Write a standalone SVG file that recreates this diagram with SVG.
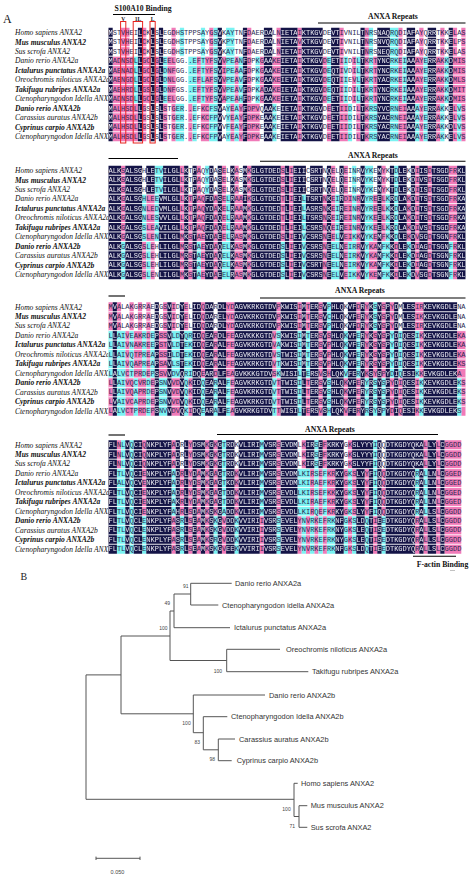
<svg xmlns="http://www.w3.org/2000/svg" width="474" height="876" viewBox="0 0 474 876">
<style>
.p{stroke:#f07ab8;fill:none}
.c{stroke:#7af2f2;fill:none}
.nv{stroke:#141447;fill:none}
.ln{stroke:#000;stroke-width:1.1;fill:none}
.rb{stroke:#e8231f;stroke-width:1;fill:none}
.tr{stroke:#555;stroke-width:1;fill:none}
.hd{font-family:"Liberation Serif","Times New Roman",serif;font-weight:bold;font-size:7.7px;fill:#111}
.tl{font-family:"Liberation Sans",Arial,sans-serif;font-size:7.4px;fill:#333}
.bs{font-family:"Liberation Sans",Arial,sans-serif;font-size:5px;fill:#444;text-anchor:end}
.bg{fill:#fff}
</style>
<defs>
<g id="lab" font-family="Liberation Serif, Times New Roman, serif" font-style="italic" font-size="7.5" fill="#111">
<text x="15" y="7.3">Homo sapiens ANXA2</text>
<text x="15" y="16.75" font-weight="bold">Mus musculus ANXA2</text>
<text x="15" y="26.2">Sus scrofa ANXA2</text>
<text x="15" y="35.65">Danio rerio ANXA2a</text>
<text x="15" y="45.1" font-weight="bold">Ictalurus punctatus ANXA2a</text>
<text x="15" y="54.55">Oreochromis niloticus ANXA2a</text>
<text x="15" y="64" font-weight="bold">Takifugu rubripes ANXA2a</text>
<text x="15" y="73.45">Ctenopharyngodon Idella ANXA2a</text>
<text x="15" y="82.9" font-weight="bold">Danio rerio ANXA2b</text>
<text x="15" y="92.35">Carassius auratus ANXA2b</text>
<text x="15" y="101.8" font-weight="bold">Cyprinus carpio ANXA2b</text>
<text x="15" y="111.25">Ctenopharyngodon Idella ANXA2b</text>
</g>
<path id="sep" d="M108.5 9.45H465.5M108.5 18.9H465.5M108.5 28.35H465.5M108.5 37.8H465.5M108.5 47.25H465.5M108.5 56.7H465.5M108.5 66.15H465.5M108.5 75.6H465.5M108.5 85.05H465.5M108.5 94.5H465.5M108.5 103.95H465.5"/>
<path id="n1M" transform="translate(108.5 41.975) scale(4.2 1)" stroke-width="28.35" d="M0 0h1M7 0h1M10 0h1M12 0h1M26 0h1M32 0h1M37 0h2M41 0h4M46 0h5M53 0h2M60 0h1M64 0h3M71 0h2M76 0h2M81 0h1"/>
<path id="n1A" transform="translate(108.5 79.775) scale(4.2 1)" stroke-width="47.25" d="M0 0h1M7 0h1M10 0h1M12 0h1M26 0h1M32 0h1M37 0h2M41 0h4M46 0h5M53 0h2M60 0h1M64 0h3M71 0h2M76 0h2M81 0h1"/>
<path id="n1B" transform="translate(108.5 122.3) scale(4.2 1)" stroke-width="37.8" d="M0 0h1M7 0h1M10 0h1M12 0h1M26 0h1M32 0h1M37 0h2M41 0h4M46 0h5M53 0h2M60 0h1M64 0h3M71 0h2M76 0h2M81 0h1"/>
<path id="n2M" transform="translate(108.5 179.975) scale(4.2 1)" stroke-width="28.35" d="M0 0h3M4 0h4M9 0h2M13 0h4M18 0h1M20 0h1M24 0h1M26 0h1M29 0h1M32 0h1M34 0h7M42 0h1M44 0h3M48 0h3M52 0h1M55 0h1M60 0h1M64 0h1M67 0h1M69 0h2M72 0h1M74 0h2M77 0h4M83 0h2"/>
<path id="n2A" transform="translate(108.5 217.775) scale(4.2 1)" stroke-width="47.25" d="M0 0h3M4 0h4M12 0h5M18 0h1M20 0h1M23 0h2M26 0h1M29 0h1M32 0h1M34 0h7M42 0h1M44 0h2M47 0h4M52 0h1M55 0h1M60 0h1M64 0h1M67 0h1M69 0h2M72 0h1M74 0h2M77 0h4M83 0h2"/>
<path id="n2B" transform="translate(108.5 260.3) scale(4.2 1)" stroke-width="37.8" d="M0 0h3M4 0h4M12 0h5M18 0h1M20 0h1M23 0h2M26 0h1M29 0h1M32 0h1M34 0h7M42 0h1M44 0h2M47 0h4M52 0h1M55 0h1M60 0h1M64 0h1M67 0h1M69 0h2M72 0h1M74 0h2M77 0h4M83 0h2"/>
<path id="n3M" transform="translate(108.5 316.475) scale(4.2 1)" stroke-width="28.35" d="M1 0h1M11 0h1M14 0h1M17 0h1M20 0h2M23 0h2M26 0h2M30 0h10M41 0h4M46 0h1M48 0h2M51 0h1M53 0h3M57 0h2M60 0h1M62 0h1M64 0h1M66 0h1M68 0h1M70 0h3M75 0h8"/>
<path id="n3A" transform="translate(108.5 354.275) scale(4.2 1)" stroke-width="47.25" d="M1 0h1M11 0h1M14 0h1M17 0h1M20 0h2M23 0h2M26 0h2M30 0h9M41 0h4M46 0h1M48 0h2M51 0h1M53 0h3M57 0h2M60 0h1M62 0h1M64 0h1M66 0h1M68 0h1M70 0h3M75 0h8"/>
<path id="n3B" transform="translate(108.5 396.8) scale(4.2 1)" stroke-width="37.8" d="M1 0h1M11 0h1M14 0h1M17 0h1M20 0h2M23 0h2M26 0h2M30 0h9M41 0h4M46 0h1M48 0h2M51 0h1M53 0h3M57 0h2M60 0h1M62 0h1M64 0h1M66 0h1M68 0h1M70 0h3M75 0h8"/>
<path id="n4M" transform="translate(108.5 454.475) scale(4.2 1)" stroke-width="28.35" d="M0 0h2M4 0h1M6 0h2M9 0h6M16 0h1M18 0h1M20 0h3M24 0h1M26 0h1M28 0h2M31 0h5M37 0h3M41 0h4M47 0h2M50 0h1M52 0h4M58 0h5M64 0h1M66 0h9M76 0h2M79 0h1"/>
<path id="n4A" transform="translate(108.5 492.275) scale(4.2 1)" stroke-width="47.25" d="M0 0h2M4 0h1M6 0h2M9 0h6M16 0h1M18 0h1M20 0h1M22 0h1M24 0h1M26 0h1M28 0h2M31 0h5M37 0h3M41 0h4M54 0h2M59 0h2M62 0h1M64 0h1M66 0h7M74 0h1M76 0h2M79 0h1"/>
<path id="n4B" transform="translate(108.5 534.8) scale(4.2 1)" stroke-width="37.8" d="M0 0h2M4 0h1M6 0h2M9 0h6M16 0h1M18 0h1M20 0h1M22 0h1M24 0h1M26 0h1M28 0h2M31 0h5M37 0h3M41 0h4M54 0h2M59 0h2M62 0h1M64 0h1M66 0h7M74 0h1M76 0h2M79 0h1"/>
<g id="seq" font-family="Liberation Mono, Courier New, monospace" font-size="7">
<text x="108.5" y="34.9">MSTVHEILCKLSLEGDHSTPPSAYGSVKAYTNFDAERDALNIETAIKTKGVDEVTIVNILTNRSNAQRQDIAFAYQRRTKKELAS</text>
<text x="108.5" y="44.35">MSTVHEILCKLSLEGDHSTPPSAYGSVKPYTNFDAERDALNIETAVKTKGVDEVTIVNILTNRSNVQRQDIAFAYQRRTKKELPS</text>
<text x="108.5" y="53.8">MSTVHEILCKLSLEGDHSTPPSAYGSVKAYTNFDAERDALNIETAIKTKGVDEVTIVNILTNRSNEQRQDIAFAYQRRTKKELAS</text>
<text x="108.5" y="63.25">MADNSDLLGCLGLEELGG..EFTYFSVVPEANFDPKGAAKEIETAIKTKGVDEETIIDILTKRTYNCRKEIAAAYERRAKKDMIS</text>
<text x="108.5" y="72.7">MAENADLLGCLGLDNFGG..EFTYFSVIPEAAFDPKGAAKEIETAIKTKGVDEQTIVDILTKRTYNCRKEIAAAYERRAKKDMIS</text>
<text x="108.5" y="82.15">MAENGDLLGCLGLDNLGG..EFLAFSVVPEAVFDPKGAAKEIETAIKTKGVDEQTIIEVLTKRTYACRKEIAAAYERRAKKDMLS</text>
<text x="108.5" y="91.6">MAEHRDLLGSLGLDNFGS..EFTYFSVVPEAVFDPKADAKEIETAIKTKGVDEQTIIDILTKRTYNCRKEIAAAYERRAKKDMIT</text>
<text x="108.5" y="101.05">MADNSDLLGCLGLEELGG..EFTYFSVAPEAHFDPKGAAKEIETAIKTKGVDEETIIDILTKRTYNCRKEIAAAYERRAKKDMIS</text>
<text x="108.5" y="110.5">MALHSDLLGSLSLSTGER..EFKCFSVAYEAYFDPVQAAKEIETAIKTKGVDEETIIDILTKRSYVCRNEIAAAYERRAKKELVS</text>
<text x="108.5" y="119.95">MALHSDLLGSLSLSTGER..EFKCFPVVYEAYFDPKEAAKEIETAIKTKGVDEETIIDILTKRSYACRNEIAAAYERRAKKELVS</text>
<text x="108.5" y="129.4">MALHSDLLGSLSLSTGER..EFKCFPVVFEAYFDPKEAAKEIETAIKTKGVDEETIIDILTKRSYACRNEIAAAYERRAKKDLVS</text>
<text x="108.5" y="138.85">MALHSDLLGSLSLSTGER..EFKCFPVAYEAYFDPKEAAKEIETAIKTKGVDEETIIDILTKRSYACRNEIAAAYERRAKKELVS</text>
<text x="108.5" y="172.9">ALKSALSGHLETVILGLLKTPAQYDASELKASMKGLGTDEDSLIEIICSRTNQELQEINRVYKEMYKTDLEKDIISDTSGDFRKL</text>
<text x="108.5" y="182.35">ALKSALSGHLETVILGLLKTPAQYDASELKASMKGLGTDEDSLIEIICSRTNQELQEINRVYKEMYKTDLEKDIVSDTSGDFRKL</text>
<text x="108.5" y="191.8">ALKSALSGHLETVILGLLKTPAQYDASELKASMKGLGTDEDSLIEIICSRTNQELQEINRVYKEMYKTDLEKDIISDTSGDFRKL</text>
<text x="108.5" y="201.25">ALKGALSGHLEEVMLGLLKTPAQFDASELRAAIKGLGTDEDTLIEILTSRTNKEIRDINRVYREELKRDLAKDITSDTSGDFRKA</text>
<text x="108.5" y="210.7">ALKGALSGNLEDVMLGLLKTPAQYDAKELRAAMKGLGTDEDTLIEILASRSNKEIREINRVYREELKKDLAKDITSDTSGDFRKA</text>
<text x="108.5" y="220.15">ALKGALSGNLESVVLGLLKTPAQFDAQELRAAMKGLGTDEDTLIEILTSRSNREIREINRVYKEELKRDLAKDITSDTSGDFRKA</text>
<text x="108.5" y="229.6">ALKGALSGSLEAVILGLLKTPAQFDAQELRAAMKGLGTDEDTLIEILCSRSNQEIREINRVYKEELKRDLAKDIVSDTSGDFRKA</text>
<text x="108.5" y="239.05">ALKGALSGSLENLILGLMKSTAEYDAEELRASMKGLGTDEDSLIEIVCSRSNEELVEIKKVYKEMFKKDLEKDVSGDTSGNFRKL</text>
<text x="108.5" y="248.5">ALKGALSGSLEHLILGLMRSTAEYDAQELKASMKGLGTDEDSLIEIVCSRSNEELNEIRRVYKAMFKKDLEKDIAGDTSGNFRKL</text>
<text x="108.5" y="257.95">ALKGALSGSLEHLILGLMRSTAEYDAQELKASMKGLGTDEDSLIEIVCSRSNEELNEIRKVYKAMFKKDLEKDIAGDTSGNFRKL</text>
<text x="108.5" y="267.4">ALKGALSGSLEHLILGLMRSTAEYDAQELKASMKGLGTDEDSLIEIVCSRTNEELNEIRKVYKAMFKKDLEKDIAGDTSGNFRKL</text>
<text x="108.5" y="276.85">ALKGALSGSLENLILGLMKSTAEYDAEELRASMKGLGTDEDSLIEIVCSRSNEELVEIKKVYKEMFKKDLEKDVSGDTSGNFRKL</text>
<text x="108.5" y="309.4">MVALAKGRRAEDGSVIDYELIDQDARDLYDAGVKRKGTDVPKWISIMTERSVPHLQKVFDRYKSYSPYDMLESIRKEVKGDLENA</text>
<text x="108.5" y="318.85">MVALAKGRRAEDGSVIDYELIDQDARELYDAGVKRKGTDVPKWISIMTERSVCHLQKVFERYKSYSPYDMLESIKKEVKGDLENA</text>
<text x="108.5" y="328.3">MVALAKGRRAEDGSVIDYELIDQDARDLYDAGVKRKGTDVPKWISIMTERSVPHLQKVFDRYKSYSPYDMLESIRKEVKGDLENA</text>
<text x="108.5" y="337.75">LLAIVEAKRDEPSSVLDYQRIDQEARDLFEAGVKKKGTDVSKWISIMTERSVSHLQKVFERYKSYSPYDIQESIKKEVKGDLEKA</text>
<text x="108.5" y="347.2">LLAIVNAKREEPSTVLDTEKIDQEARALFEAGVKRKGTDVAKWISIMTERSVPHLQKVFERYKSYSPYDIQESIKKEVKGDLEKA</text>
<text x="108.5" y="356.65">LLAIVQTPREAPSSILDTEKIDQEARALFEAGVKRKGTDVSTWISIMTERSVPHLQKVFERYKSYSPYDIQESIKKEVKGDLEKA</text>
<text x="108.5" y="366.1">LLAIVQAPREAPSAVLSTEKIDQEARALFEAGVKRKGTDVTKWISIMTERSVPHLQKVFERYRSYSPYDIQESIKKEVKGDLEKS</text>
<text x="108.5" y="375.55">LALVCTPRDEPSSVVDVQRIDQEARDLFEAGVKKKGTDVSKWISILTERSVSHLQKVFERYKSYSPYDIQESIKKEVKGDLEKA</text>
<text x="108.5" y="385">LLAIVQCVRDEPSNVVDVQKIDQEARALFEAGVKRKGTDVTTWISILTERSVSHLQKVFERYRSYSPYDIQESIKKEVKGDLEKS</text>
<text x="108.5" y="394.45">LLAIVQAPRDEPSNVVDVQKIDQEARALFEAGVKRKGTDVTTWISILTERSVSHLQKVFERYRSYSPYDIQESIKKEVKGDLEKS</text>
<text x="108.5" y="403.9">LVAIVCAPRDEPSNVVDVQKIDQEARALFEAGVKRKGTDVTTWISILTERSVSHLQKVFERYRSYSPYDIQESIKKEVKGDLEKS</text>
<text x="108.5" y="413.35">LALVCTPRDEPSNVVDVQKIDQEARALFEAGVKRKGTDVTTWISILTERSVSHLQKVFERYRSYSPYDIQESIKKEVKGDLEKS</text>
<text x="108.5" y="447.4">FLNLVQCIQNKPLYFADRLYDSMKGKGTRDKVLIRIMVSRSEVDMLKIRSEFKRKYGKSLYYYIQQDTKGDYQKALLYLCGGDD</text>
<text x="108.5" y="456.85">FLNLVQCIQNKPLYFADRLYDSMKGKGTRDKVLIRIMVSRSEVDMLKIRSEFKRKYGKSLYYYIQQDTKGDYQKALLYLCGGDD</text>
<text x="108.5" y="466.3">FLNLVQCIQNKPLYFADRLYDSMKGKGTRDKVLIRIMVSRSEVDMLKIRSEFKRKYGKSLYYFIQQDTKGDYQKALLYLCGGDD</text>
<text x="108.5" y="475.75">FLTLVQCIENKPLYFADRLYDAMKGAGTRDKVLIRIMVSRSEVDMLKIRSEFKRKYGKSLYYFIQQDTKGDYQRALLNLCGGED</text>
<text x="108.5" y="485.2">FLALVQCVENKPLYFADRLYDSMKGAGTKDKVLIRIMVSRSEVDMLKIRAEFKRKYGKSLYYFIQQDTKGDYQRALLNLCGGED</text>
<text x="108.5" y="494.65">FLTLVQCIENKPLYFADRLYDSMKGAGTDDKVLIRIMVSRSEVDLLKIRSEFKKKYGKSLYYFIQQDTKGDYQRALLNLCGGED</text>
<text x="108.5" y="504.1">FLTLVQCIENKPLYFAKRLYDAMKGAGTDDKVLIRIMVSRSEVDLLKIRAEFKRKYGKSLYYFIQQDTKGDYQRALLNLCGGED</text>
<text x="108.5" y="513.55">FLTLVQCIENKPLYFAHRLSDAMKSKGADDKVLIRIMVSRSEVDLLKIRQEFKRKYGKSLYYFIQQDTKGDYQRALLSLCGGDD</text>
<text x="108.5" y="523">FLTLVQCLENKPLYFASRLSEAMKSKGVDDKVVIRIIVSRSEVELYNVRKEFRKNFGKSLDQTIEEDTKGDYQRALLSLCGGDD</text>
<text x="108.5" y="532.45">FLTLVQCLENKPLYFASRLSEAMKSKGVDDKVVIRIIVSRSEVELYNVRKEFRKNYGKSLEQTISEDTKGDYQRALLSLCGGDD</text>
<text x="108.5" y="541.9">FLTLVQCLENKPLYFASRLSEAMKSRGVDDKVVIRIIVSRSEVELYNVRKEFRKNYGKSLEQTISEDTKGDYQRALLSLCGGDD</text>
<text x="108.5" y="551.35">FLTLVQCLENKPLYFASRLSEAMKSKGVEEKVVIRIIVSRSEVELYNVRKEFRKNFGKSLDQTIEEDTKGDYQRALLSLCGGDD</text>
</g>
<mask id="mN" maskUnits="userSpaceOnUse" x="0" y="0" width="474" height="560">
<g stroke="#fff" fill="none">
<use href="#n1M"/><use href="#n1A"/><use href="#n1B"/>
<use href="#n2M"/><use href="#n2A"/><use href="#n2B"/>
<use href="#n3M"/><use href="#n3A"/><use href="#n3B"/>
<use href="#n4M"/><use href="#n4A"/><use href="#n4B"/>
</g>
</mask>
</defs>

<rect width="474" height="876" fill="#fff"/>

<g id="panelA">
<text x="3" y="23" font-family="Liberation Serif, Times New Roman, serif" font-size="12" fill="#111">A</text>

<g id="labels">
<use href="#lab" y="27.8"/>
<use href="#lab" y="165.8"/>
<use href="#lab" y="302.3"/>
<use href="#lab" y="440.3"/>
</g>

<g id="block1">
<rect class="bg" x="108.5" y="27.8" width="357" height="113.4"/>
<g transform="translate(108.5 41.975) scale(4.2 1)" stroke-width="28.35">
<path class="p" d="M3 0h2M8 0h1M15 0h1M24 0h1M33 0h1M40 0h1M45 0h1M55 0h1M61 0h1M69 0h1M74 0h1M79 0h1M82 0h1M84 0h1"/>
<path class="c" d="M17 0h1M22 0h1M25 0h1M28 0h2M62 0h1M67 0h2"/>
</g>
<g transform="translate(108.5 79.775) scale(4.2 1)" stroke-width="47.25">
<path class="p" d="M1 0h5M8 0h2M11 0h1M14 0h2M21 0h1M23 0h2M27 0h1M30 0h1M33 0h1M36 0h1M39 0h2M45 0h1M51 0h1M55 0h1M58 0h1M61 0h1M63 0h1M69 0h1M73 0h2M78 0h2M82 0h3"/>
<path class="c" d="M6 0h1M13 0h1M19 0h2M22 0h1M25 0h1M28 0h2M31 0h1M35 0h1M52 0h1M56 0h1M59 0h1M62 0h1M67 0h2M70 0h1M75 0h1M80 0h1"/>
</g>
<g transform="translate(108.5 122.3) scale(4.2 1)" stroke-width="37.8">
<path class="p" d="M1 0h6M8 0h1M13 0h1M15 0h1M19 0h1M22 0h2M29 0h1M31 0h1M33 0h3M45 0h1M52 0h1M55 0h2M59 0h1M61 0h1M69 0h2M74 0h1M78 0h1M82 0h1M84 0h1"/>
<path class="c" d="M16 0h2M20 0h1M24 0h2M28 0h1M30 0h1M39 0h1M57 0h1M62 0h2M67 0h2M73 0h1M75 0h1M79 0h1M83 0h1"/>
</g>
<g class="nv"><use href="#n1M"/><use href="#n1A"/><use href="#n1B"/></g>
<use href="#sep" y="27.8" stroke="#fff" stroke-width="0.9"/>
</g>

<g id="block2">
<rect class="bg" x="108.5" y="165.8" width="357" height="113.4"/>
<g transform="translate(108.5 179.975) scale(4.2 1)" stroke-width="28.35">
<path class="p" d="M3 0h1M17 0h1M21 0h1M27 0h1M30 0h1M33 0h1M41 0h1M43 0h1M53 0h1M56 0h1M65 0h1M73 0h1M76 0h1M81 0h2"/>
<path class="c" d="M11 0h2M23 0h1M58 0h1M61 0h2M68 0h1"/>
</g>
<g transform="translate(108.5 217.775) scale(4.2 1)" stroke-width="47.25">
<path class="p" d="M3 0h1M9 0h2M17 0h1M19 0h1M21 0h2M25 0h1M27 0h1M30 0h2M33 0h1M41 0h1M43 0h1M51 0h1M53 0h1M56 0h2M59 0h1M63 0h1M65 0h1M71 0h1M73 0h1M76 0h1M81 0h2"/>
<path class="c" d="M8 0h1M11 0h1M28 0h1M46 0h1M54 0h1M58 0h1M61 0h2M66 0h1M68 0h1"/>
</g>
<g transform="translate(108.5 260.3) scale(4.2 1)" stroke-width="37.8">
<path class="p" d="M8 0h1M10 0h1M17 0h1M19 0h1M22 0h1M25 0h1M30 0h2M33 0h1M43 0h1M51 0h1M56 0h1M59 0h1M62 0h2M68 0h1M73 0h1M76 0h1M82 0h1"/>
<path class="c" d="M3 0h1M9 0h1M21 0h1M27 0h2M41 0h1M46 0h1M53 0h2M57 0h2M61 0h1M65 0h2M71 0h1M81 0h1"/>
</g>
<g class="nv"><use href="#n2M"/><use href="#n2A"/><use href="#n2B"/></g>
<use href="#sep" y="165.8" stroke="#fff" stroke-width="0.9"/>
</g>

<g id="block3">
<rect class="bg" x="108.5" y="302.3" width="357" height="113.4"/>
<g transform="translate(108.5 316.475) scale(4.2 1)" stroke-width="28.35">
<path class="p" d="M0 0h1M2 0h1M5 0h1M7 0h1M9 0h1M13 0h1M15 0h1M18 0h1M22 0h1M28 0h2M40 0h1M45 0h1M47 0h1M50 0h1M59 0h1M61 0h1M65 0h1M67 0h1M73 0h2"/>
<path class="c" d="M52 0h1M63 0h1"/>
</g>
<g transform="translate(108.5 354.275) scale(4.2 1)" stroke-width="47.25">
<path class="p" d="M4 0h1M6 0h2M9 0h1M12 0h2M22 0h1M25 0h1M28 0h2M39 0h1M50 0h1M52 0h1M61 0h1M63 0h1M65 0h1M74 0h1M83 0h2"/>
<path class="c" d="M0 0h1M2 0h2M5 0h1M8 0h1M10 0h1M15 0h2M18 0h2M40 0h1M45 0h1M47 0h1M56 0h1M59 0h1M67 0h1M69 0h1M73 0h1"/>
</g>
<g transform="translate(108.5 396.8) scale(4.2 1)" stroke-width="37.8">
<path class="p" d="M0 0h1M4 0h2M7 0h2M10 0h1M15 0h2M19 0h1M29 0h1M40 0h1M47 0h1M50 0h1M56 0h1M59 0h1M67 0h1M69 0h1M73 0h1M84 0h1"/>
<path class="c" d="M2 0h2M6 0h1M9 0h1M12 0h2M18 0h1M22 0h1M25 0h1M28 0h1M39 0h1M45 0h1M52 0h1M61 0h1M63 0h1M65 0h1M74 0h1M83 0h1"/>
</g>
<g class="nv"><use href="#n3M"/><use href="#n3A"/><use href="#n3B"/></g>
<use href="#sep" y="302.3" stroke="#fff" stroke-width="0.9"/>
</g>

<g id="block4">
<rect class="bg" x="108.5" y="440.3" width="357" height="113.4"/>
<g transform="translate(108.5 454.475) scale(4.2 1)" stroke-width="28.35">
<path class="p" d="M2 0h1M8 0h1M15 0h1M19 0h1M23 0h1M25 0h1M40 0h1M46 0h1M51 0h1M57 0h1M75 0h1M78 0h1M80 0h4"/>
<path class="c" d="M3 0h1M5 0h1M27 0h1M36 0h1M49 0h1M63 0h1"/>
</g>
<g transform="translate(108.5 492.275) scale(4.2 1)" stroke-width="47.25">
<path class="p" d="M8 0h1M17 0h1M19 0h1M21 0h1M23 0h1M25 0h1M30 0h1M40 0h1M48 0h1M50 0h1M52 0h2M56 0h1M58 0h1M61 0h1M65 0h1M78 0h1M80 0h4"/>
<path class="c" d="M2 0h2M5 0h1M15 0h1M27 0h1M36 0h1M45 0h3M49 0h1M51 0h1M57 0h1M63 0h1M73 0h1M75 0h1"/>
</g>
<g transform="translate(108.5 534.8) scale(4.2 1)" stroke-width="37.8">
<path class="p" d="M15 0h1M19 0h1M21 0h1M23 0h1M27 0h1M36 0h1M45 0h1M47 0h1M49 0h1M51 0h1M57 0h1M63 0h1M73 0h1M75 0h1M78 0h1M80 0h4"/>
<path class="c" d="M2 0h2M5 0h1M8 0h1M17 0h1M25 0h1M30 0h1M40 0h1M46 0h1M48 0h1M50 0h1M52 0h2M56 0h1M58 0h1M61 0h1M65 0h1"/>
</g>
<g class="nv"><use href="#n4M"/><use href="#n4A"/><use href="#n4B"/></g>
<use href="#sep" y="440.3" stroke="#fff" stroke-width="0.9"/>
</g>

<g id="sequences">
<use href="#seq" fill="#2a2a52"/>
<use href="#seq" fill="#e4e4ee" mask="url(#mN)"/>
</g>

<g id="annotations">
<text class="hd" x="143" y="11" text-anchor="middle" font-size="8.2">S100A10 Binding</text>
<path class="ln" d="M113 14.5H155"/>
<g font-family="Liberation Serif, serif" font-weight="bold" font-size="5.5" fill="#111" text-anchor="middle">
<text x="123.2" y="20.6">V</text>
<text x="137.9" y="20.6">1L</text>
<text x="152.6" y="20.6">L</text>
</g>
<rect class="rb" x="120.6" y="21.5" width="5.2" height="121.5"/>
<rect class="rb" x="133.2" y="21.5" width="9.4" height="121.5"/>
<rect class="rb" x="150" y="21.5" width="5.2" height="121.5"/>

<text class="hd" x="393" y="19" text-anchor="middle">ANXA Repeats</text>
<path class="ln" d="M318 23H465.5"/>

<path class="ln" d="M108.5 158.5H178"/>
<text class="hd" x="373" y="157.5" text-anchor="middle">ANXA Repeats</text>
<path class="ln" d="M260 161.2H465.5"/>

<path class="ln" d="M108.5 296H125"/>
<text class="hd" x="360" y="293" text-anchor="middle">ANXA Repeats</text>
<path class="ln" d="M260 298H465.5"/>

<path class="ln" d="M108.5 435H125"/>
<text class="hd" x="330" y="431.5" text-anchor="middle">ANXA Repeats</text>
<path class="ln" d="M217 434.5H438"/>

<path class="ln" d="M413 556.2H456"/>
<text class="hd" x="442.5" y="567" text-anchor="middle" font-size="8">F-actin Binding</text>
<path d="M450 570.5H455" stroke="#999" stroke-width="0.6"/>
</g>
</g>

<g id="panelB">
<text x="20.5" y="580" font-family="Liberation Serif, Times New Roman, serif" font-size="10" fill="#222">B</text>
<g id="connectors" class="tr">
<path d="M190.7 583.3V605M190.7 583.3H231.7M190.7 605H218.3M174 594V627.7M174 594H190.7M174 627.7H230M170 611V660.5M170 611H174M226.7 649.3V671.7M170 660.5H226.7M226.7 649.3H280M226.7 671.7H308.3M121 636V713.8M121 636H170M193.3 695V732.7M121 713.8H193.3M193.3 695H265M203.3 716.7V749.8M193.3 732.7H203.3M203.3 716.7H227.3M218.3 739V760.7M203.3 749.8H218.3M218.3 739H235M218.3 760.7H231.7M86 674.9V799.3M86 674.9H121M86 799.3H294M294 783.3V816.5M294 783.3H297.7M299 805.7V827.3M294 816.5H299M299 805.7H307.3M299 827.3H307.3"/>
</g>
<g id="bootstrap" class="bs">
<text x="188.5" y="588">91</text>
<text x="170" y="604.5">49</text>
<text x="167.5" y="629.5">100</text>
<text x="222" y="672.5">100</text>
<text x="190.7" y="724.5">100</text>
<text x="200" y="744">83</text>
<text x="215" y="760.5">98</text>
<text x="290.7" y="810.5">100</text>
<text x="295" y="828">71</text>
</g>
<g id="leaf-danio-a"><text class="tl" x="235" y="585.8">Danio rerio ANXA2a</text></g>
<g id="leaf-cteno-a"><text class="tl" x="222" y="607.5">Ctenopharyngodon idella ANXA2a</text></g>
<g id="leaf-ictalurus-a"><text class="tl" x="234" y="630.2">Ictalurus punctatus ANXA2a</text></g>
<g id="leaf-oreochromis-a"><text class="tl" x="286" y="651.8">Oreochromis niloticus ANXA2a</text></g>
<g id="leaf-takifugu-a"><text class="tl" x="312" y="674.2">Takifugu rubripes ANXA2a</text></g>
<g id="leaf-danio-b"><text class="tl" x="269" y="697.5">Danio rerio ANXA2b</text></g>
<g id="leaf-cteno-b"><text class="tl" x="231" y="719.2">Ctenopharyngodon Idella ANXA2b</text></g>
<g id="leaf-carassius-b"><text class="tl" x="239" y="741.5">Carassius auratus ANXA2b</text></g>
<g id="leaf-cyprinus-b"><text class="tl" x="236.7" y="763.2">Cyprinus carpio ANXA2b</text></g>
<g id="leaf-homo"><text class="tl" x="301" y="785.8">Homo sapiens ANXA2</text></g>
<g id="leaf-mus"><text class="tl" x="310.7" y="808.2">Mus musculus ANXA2</text></g>
<g id="leaf-sus"><text class="tl" x="310.7" y="829.8">Sus scrofa ANXA2</text></g>
<g id="scale-bar">
<path class="tr" d="M96 858.3H140M96 856.6V860M140 856.6V860"/>
<text x="117.5" y="873.5" text-anchor="middle" font-family="Liberation Sans, Arial, sans-serif" font-size="5.5" fill="#444">0.050</text>
</g>
</g>
</svg>
